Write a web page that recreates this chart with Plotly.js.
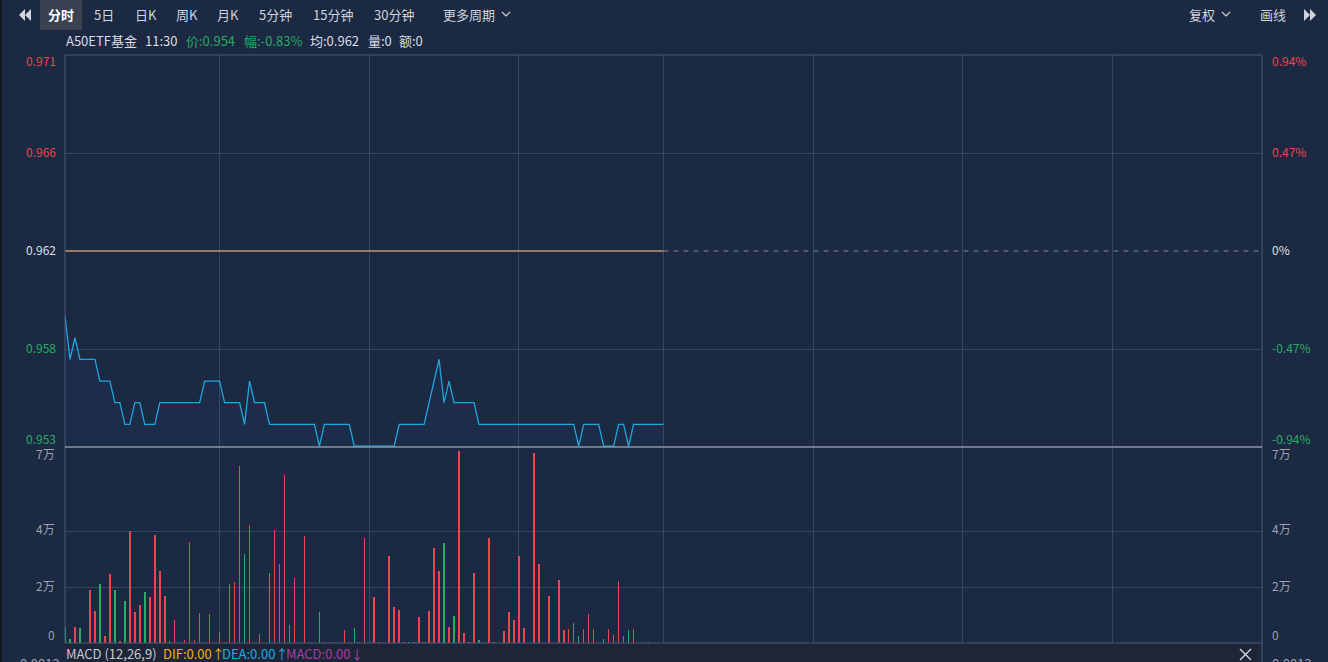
<!DOCTYPE html>
<html>
<head>
<meta charset="utf-8">
<script src="https://cdn.plot.ly/plotly-3.0.1.min.js"></script>
<style>
  html, body { margin:0; padding:0; background:#1c2942; }
  #wrap { position:relative; width:1328px; height:662px; background:#1c2942; overflow:hidden;
          font-family:"Noto Sans CJK SC","Noto Sans",sans-serif; }
  #chart { position:absolute; left:0; top:0; width:1328px; height:662px; }
  .t { position:absolute; white-space:nowrap; font-size:13px; line-height:16px; color:#cfd4dd; }
  #tabOn { position:absolute; left:40px; top:0; width:42px; height:30px; background:#3a4252; }
  #leftstrip { position:absolute; left:0; top:0; width:2px; height:662px; background:#14171d; }
  #macdbar { position:absolute; left:66px; top:644px; width:1195px; height:18px; background:#1e2536; }
</style>
</head>
<body>
<div id="wrap">
  <div id="chart"></div>
  <div id="leftstrip"></div>
  <div id="macdbar"></div>
  <div id="tabOn"></div>
  <svg style="position:absolute;left:19px;top:9px" width="13" height="12">
    <polygon points="6,0 6,12 0,6" fill="#cfd4dd"/><polygon points="12,0 12,12 6,6" fill="#cfd4dd"/>
  </svg>
  <svg style="position:absolute;left:1304px;top:9px" width="13" height="12">
    <polygon points="0,0 0,12 6,6" fill="#cfd4dd"/><polygon points="6,0 6,12 12,6" fill="#cfd4dd"/>
  </svg>
  <div id="overlay"></div>
</div>
<script>
// ---------------- data ----------------
const stockName = "A50ETF基金";
const prevClose = 0.962;
const limitPct = 0.0094;
// minute prices 09:30 .. 11:30 (121 points)
const prices = [
  0.959,0.957,0.958,0.957,0.957,0.957,0.957,0.956,0.956,0.956,
  0.955,0.955,0.954,0.954,0.955,0.955,0.954,0.954,0.954,0.955,
  0.955,0.955,0.955,0.955,0.955,0.955,0.955,0.955,0.956,0.956,
  0.956,0.956,0.955,0.955,0.955,0.955,0.954,0.956,0.955,0.955,
  0.955,0.954,0.954,0.954,0.954,0.954,0.954,0.954,0.954,0.954,
  0.954,0.953,0.954,0.954,0.954,0.954,0.954,0.954,0.953,0.953,
  0.953,0.953,0.953,0.953,0.953,0.953,0.953,0.954,0.954,0.954,
  0.954,0.954,0.954,0.955,0.956,0.957,0.955,0.956,0.955,0.955,
  0.955,0.955,0.955,0.954,0.954,0.954,0.954,0.954,0.954,0.954,
  0.954,0.954,0.954,0.954,0.954,0.954,0.954,0.954,0.954,0.954,
  0.954,0.954,0.954,0.953,0.954,0.954,0.954,0.954,0.953,0.953,
  0.953,0.954,0.954,0.953,0.954,0.954,0.954,0.954,0.954,0.954,
  0.954
];
// average price line
const avgPrices = [
  0.962,0.962,0.962,0.962,0.962,0.962,0.962,0.962,0.962,0.962,
  0.962,0.962,0.962,0.962,0.962,0.962,0.962,0.962,0.962,0.962,
  0.962,0.962,0.962,0.962,0.962,0.962,0.962,0.962,0.962,0.962,
  0.962,0.962,0.962,0.962,0.962,0.962,0.962,0.962,0.962,0.962,
  0.962,0.962,0.962,0.962,0.962,0.962,0.962,0.962,0.962,0.962,
  0.962,0.962,0.962,0.962,0.962,0.962,0.962,0.962,0.962,0.962,
  0.962,0.962,0.962,0.962,0.962,0.962,0.962,0.962,0.962,0.962,
  0.962,0.962,0.962,0.962,0.962,0.962,0.962,0.962,0.962,0.962,
  0.962,0.962,0.962,0.962,0.962,0.962,0.962,0.962,0.962,0.962,
  0.962,0.962,0.962,0.962,0.962,0.962,0.962,0.962,0.962,0.962,
  0.962,0.962,0.962,0.962,0.962,0.962,0.962,0.962,0.962,0.962,
  0.962,0.962,0.962,0.962,0.962,0.962,0.962,0.962,0.962,0.962,
  0.962
];
// volume bars: minute index, volume, direction (1 up/red, 0 down/green)
const volMinute = [0,1,2,3,5,6,7,8,9,10,11,12,13,14,15,16,17,18,19,20,21,22,24,25,26,27,29,31,32,33,34,35,36,37,39,41,42,43,44,45,46,48,49,51,52,53,54,56,57,58,59,60,62,63,65,66,67,68,69,70,71,72,73,74,75,76,77,78,79,80,81,82,83,85,86,88,89,90,91,92,94,95,97,99,100,101,102,103,104,105,106,108,109,110,111,112,113,114,117];
const volValue = [5600,1300,5600,5200,18900,11300,21100,2500,24600,19000,700,15000,40000,11100,13500,18100,16500,38600,25700,16800,700,8200,1000,36100,1000,10700,10400,3900,400,21100,21800,63200,31800,42000,3100,24900,40400,28200,60000,6400,23200,38200,300,11100,400,400,300,4800,400,5200,300,37400,16400,300,31100,12900,11900,300,300,500,9200,400,11300,34000,25800,35700,5800,9500,68700,3400,300,24900,1000,37400,300,4400,11100,8100,31200,5400,67900,28100,16900,22500,4600,5000,7300,2500,5000,10400,5000,1300,5000,2700,22100,2500,4500,5000,500];
const volUp = [0,0,1,0,1,1,0,1,1,0,1,0,1,1,1,0,1,1,1,1,1,1,1,1,1,1,1,1,0,1,1,1,0,1,1,0,1,1,1,1,1,1,1,0,1,1,1,1,1,0,0,1,1,1,1,1,1,1,0,1,1,1,1,1,1,0,1,0,1,1,1,1,0,1,1,1,1,1,1,1,1,1,1,1,1,1,1,0,1,1,1,0,1,1,1,1,0,1,1];
const priceLabelsLeft = ["0.971","0.966","0.962","0.958","0.953"];
const priceLabelsRight = ["0.94%","0.47%","0%","-0.47%","-0.94%"];
const volLabels = ["7万","4万","2万","0"];
const volLabelVals = [70000,40000,20000,0];
const gridMinutes = [31,61,91,120,150,180,210];
const totalMinutes = 240;

// ---------------- chart ----------------
const RED = "#e8474c", GREEN = "#29ad62", WHITE = "#dde1e8", GRAY = "#9aa2b3";
const GRID = "#37465f", FRAME = "#4d5b76";
const pHigh = prevClose * (1 + limitPct), pLow = prevClose * (1 - limitPct);
const pLevels = [pHigh, prevClose*(1+limitPct/2), prevClose, prevClose*(1-limitPct/2), pLow];
const levelColors = [RED, RED, WHITE, GREEN, GREEN];
const idx = prices.map((_, i) => i);

const traces = [
  { x: idx, y: prices, type: "scatter", mode: "lines", xaxis: "x", yaxis: "y",
    line: { color: "#1ea6df", width: 1.3 }, fill: "tozeroy", fillcolor: "rgba(40,120,200,0.06)",
    hoverinfo: "skip" },
  { x: idx, y: avgPrices, type: "scatter", mode: "lines", xaxis: "x", yaxis: "y",
    line: { color: "#9a7d5e", width: 2 }, hoverinfo: "skip" },
  { x: volMinute, y: volValue, type: "bar", xaxis: "x", yaxis: "y2", width: 0.3,
    marker: { color: volUp.map(u => u ? RED : GREEN), line: { width: 0 } }, hoverinfo: "skip" }
];

const ann = [];
const fnt = (c) => ({ family: '"Noto Sans CJK SC","Noto Sans",sans-serif', size: 12, color: c });
const pShift = [4, 2, 2, 2, -1];
pLevels.forEach((v, i) => {
  const ya = i === 0 ? "top" : (i === 4 ? "bottom" : "middle");
  ann.push({ xref: "paper", yref: "y", x: 0, y: v, xanchor: "right", yanchor: ya, xshift: -8, yshift: pShift[i],
    text: priceLabelsLeft[i], showarrow: false, borderpad: 0, font: fnt(levelColors[i]) });
  ann.push({ xref: "paper", yref: "y", x: 1, y: v, xanchor: "left", yanchor: ya, xshift: 9, yshift: pShift[i],
    text: priceLabelsRight[i], showarrow: false, borderpad: 0, font: fnt(levelColors[i]) });
});
const vShift = [3, 3, 2, -1];
volLabelVals.forEach((v, i) => {
  const ya = i === 0 ? "top" : (i === 3 ? "bottom" : "middle");
  ann.push({ xref: "paper", yref: "y2", x: 0, y: v, xanchor: "right", yanchor: ya, xshift: -9, yshift: vShift[i],
    text: volLabels[i], showarrow: false, borderpad: 0, font: fnt(GRAY) });
  ann.push({ xref: "paper", yref: "y2", x: 1, y: v, xanchor: "left", yanchor: ya, xshift: 9, yshift: vShift[i],
    text: volLabels[i], showarrow: false, borderpad: 0, font: fnt(GRAY) });
});

const split = 196 / 588;
const shapes = [
  { type: "line", xref: "paper", yref: "paper", x0: 0, x1: 1, y0: 1, y1: 1, line: { color: FRAME, width: 1 } },
  { type: "line", xref: "paper", yref: "paper", x0: 0, x1: 0, y0: 0, y1: 1, line: { color: FRAME, width: 1 } },
  { type: "line", xref: "paper", yref: "paper", x0: 1, x1: 1, y0: -19/588, y1: 1, line: { color: FRAME, width: 1 } },
  { type: "line", xref: "paper", yref: "paper", x0: 0, x1: 1, y0: 0, y1: 0, line: { color: FRAME, width: 1 } },
  { type: "line", xref: "x", yref: "y", x0: 120, x1: totalMinutes, y0: prevClose, y1: prevClose,
    line: { color: "#7f889b", width: 1, dash: "5px,5px" } },
  { type: "line", xref: "paper", yref: "paper", x0: 0, x1: 1, y0: split, y1: split, line: { color: "#8d95a7", width: 1.5 } }
];

const layout = {
  width: 1328, height: 662,
  margin: { l: 65, r: 66, t: 55, b: 19, pad: 0 },
  paper_bgcolor: "rgba(0,0,0,0)", plot_bgcolor: "#1c2942",
  showlegend: false, bargap: 0,
  xaxis: { range: [0, totalMinutes], tickvals: gridMinutes, showticklabels: false, showgrid: true,
    gridcolor: GRID, gridwidth: 1, zeroline: false, showline: false, ticks: "", fixedrange: true, anchor: "y2" },
  yaxis: { domain: [split, 1], range: [pLow, pHigh], tickvals: [pLevels[1], pLevels[3]],
    showticklabels: false, showgrid: true, gridcolor: GRID, zeroline: false, showline: false, ticks: "", fixedrange: true },
  yaxis2: { domain: [0, split], range: [0, 70000], tickvals: [20000, 40000], showticklabels: false,
    showgrid: true, gridcolor: GRID, zeroline: false, showline: false, ticks: "", fixedrange: true },
  annotations: ann,
  shapes: shapes,
  font: fnt(WHITE)
};
Plotly.newPlot("chart", traces, layout, { displayModeBar: false, staticPlot: true });

// ---------------- overlay texts ----------------
const lastPrice = prices[prices.length - 1];
const chg = (lastPrice - prevClose) / prevClose * 100;
const items = [
  { x: 48, y: 7, t: "分时", c: "#ffffff", w: "bold" },
  { x: 94, y: 7, t: "5日" }, { x: 135, y: 7, t: "日K" }, { x: 176, y: 7, t: "周K" },
  { x: 217, y: 7, t: "月K" }, { x: 259, y: 7, t: "5分钟" }, { x: 313, y: 7, t: "15分钟" },
  { x: 374, y: 7, t: "30分钟" }, { x: 443, y: 7, t: "更多周期" },
  { x: 1189, y: 7, t: "复权" }, { x: 1260, y: 7, t: "画线" },
  { x: 66, y: 33, t: stockName, c: "#d8dde6" }, { x: 145, y: 33, t: "11:30", c: "#d8dde6" },
  { x: 186, y: 33, t: "价:" + lastPrice.toFixed(3), c: "#27a863" },
  { x: 244, y: 33, t: "幅:" + chg.toFixed(2) + "%", c: "#27a863" },
  { x: 310, y: 33, t: "均:" + avgPrices[avgPrices.length - 1].toFixed(3), c: "#d8dde6" },
  { x: 368, y: 33, t: "量:0", c: "#d8dde6" }, { x: 399, y: 33, t: "额:0", c: "#d8dde6" },
  { x: 66, y: 646, t: "MACD (12,26,9)", c: "#c6cad3" },
  { x: 163, y: 646, t: "DIF:0.00↑", c: "#f2b400" },
  { x: 222, y: 646, t: "DEA:0.00↑", c: "#1ea9e8" },
  { x: 286, y: 646, t: "MACD:0.00↓", c: "#a93ca9" },
  { x: 20, y: 656, t: "0.0012", c: "#9aa2b3" }, { x: 1272, y: 656, t: "0.0012", c: "#9aa2b3" }
];
const ov = document.getElementById("overlay");
items.forEach(it => {
  const d = document.createElement("div");
  d.className = "t";
  d.style.left = it.x + "px"; d.style.top = it.y + "px";
  if (it.c) d.style.color = it.c;
  if (it.w) d.style.fontWeight = it.w;
  d.textContent = it.t;
  ov.appendChild(d);
});
// chevrons and close mark
const extra = `
<svg style="position:absolute;left:501px;top:11px" width="10" height="7"><polyline points="1,1 5,5 9,1" fill="none" stroke="#cfd4dd" stroke-width="1.2"/></svg>
<svg style="position:absolute;left:1221px;top:11px" width="10" height="7"><polyline points="1,1 5,5 9,1" fill="none" stroke="#cfd4dd" stroke-width="1.2"/></svg>
<svg style="position:absolute;left:1239px;top:648px" width="13" height="13"><path d="M1,1 L12,12 M12,1 L1,12" stroke="#d8dde6" stroke-width="1.3"/></svg>`;
ov.insertAdjacentHTML("beforeend", extra);
</script>
</body>
</html>
